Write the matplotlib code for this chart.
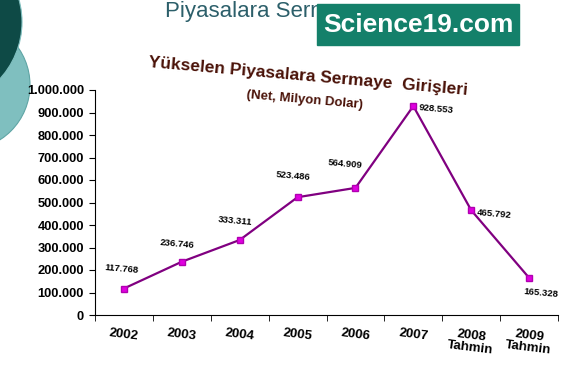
import numpy as np
import matplotlib.pyplot as plt
from matplotlib.patches import Circle, Rectangle
from matplotlib.ticker import FuncFormatter, FixedLocator

# data
years = ['2002', '2003', '2004', '2005', '2006', '2007', '2008\nTahmin', '2009\nTahmin']
flows = [117768, 236746, 333311, 523486, 564909, 928553, 465792, 165328]
flow_labels = ['117.768', '236.746', '333.311', '523.486', '564.909', '928.553', '465.792', '165.328']

plt.rcParams['font.family'] = ['Liberation Sans', 'DejaVu Sans']

fig = plt.figure(figsize=(5.67, 3.92), dpi=100)
fig.patch.set_facecolor('white')

# slide decorations -------------------
deco = fig.add_axes([0, 0, 1, 1], zorder=0)
deco.set_xlim(0, 567)
deco.set_ylim(392, 0)
deco.axis('off')
deco.add_patch(Circle((-35, 85), 65, fc='#7fbfbf', ec='#5fa5a5', lw=0.8, zorder=1))
deco.add_patch(Circle((-62, 22), 84, fc='#0e4a46', ec='#7fbfbf', lw=0.8, zorder=2))
deco.text(265, 1, 'Piyasalara Sermaye', fontsize=16, color='#2c5f6a',
          ha='center', va='top', zorder=1)
deco.add_patch(Rectangle((317, 4), 202, 41, color='#14806a', zorder=3))
deco.text(418, 25, 'Science19.com', fontsize=19, fontweight='bold', color='white',
          ha='center', va='center', zorder=4)

# chart titles
deco.text(308, 76, 'Yükselen Piyasalara Sermaye  Girişleri', fontsize=12.5, fontweight='bold',
          color='#4a1208', ha='center', va='center', rotation=-5)
deco.text(305, 100, '(Net, Milyon Dolar)', fontsize=9.5, fontweight='bold',
          color='#4a1208', ha='center', va='center', rotation=-5)

# the chart itself -------------------
ax = fig.add_axes([95 / 567, 1 - 315 / 392, 463 / 567, 225 / 392], zorder=2)
ax.patch.set_alpha(0)
x = np.arange(len(years))
ax.plot(x, flows, color='#800080', lw=1.6, marker='s', ms=4.5,
        mfc='#e000e0', mec='#b000b0', zorder=3)

offsets = [(-14, 14), (-16, 13), (-16, 14), (-16, 15), (-20, 17), (4, -2), (4, -3), (-4, -11)]
for xi, yi, lab, off in zip(x, flows, flow_labels, offsets):
    ax.annotate(lab, (xi, yi), xytext=off, textcoords='offset points', fontsize=6.8,
                fontweight='bold', ha='left', va='center', rotation=-5)

ax.set_ylim(0, 1000000)
ax.set_yticks(np.arange(0, 1000001, 100000))
ax.yaxis.set_major_formatter(FuncFormatter(lambda v, p: f'{int(v):,}'.replace(',', '.')))
ax.set_xlim(-0.5, len(years) - 0.5)
ax.set_xticks(x)
ax.set_xticklabels(years, fontsize=9.5, fontweight='bold', rotation=-7, linespacing=1.0)
ax.xaxis.set_minor_locator(FixedLocator(np.arange(-0.5, len(years), 1)))
ax.tick_params(axis='x', which='major', length=0, pad=9)
ax.tick_params(axis='x', which='minor', length=4, direction='out')
ax.tick_params(axis='y', length=4, labelsize=9.3, pad=4)
for t in ax.get_yticklabels():
    t.set_fontweight('bold')
for s in ['top', 'right']:
    ax.spines[s].set_visible(False)

fig.savefig('out.png', dpi=100)
